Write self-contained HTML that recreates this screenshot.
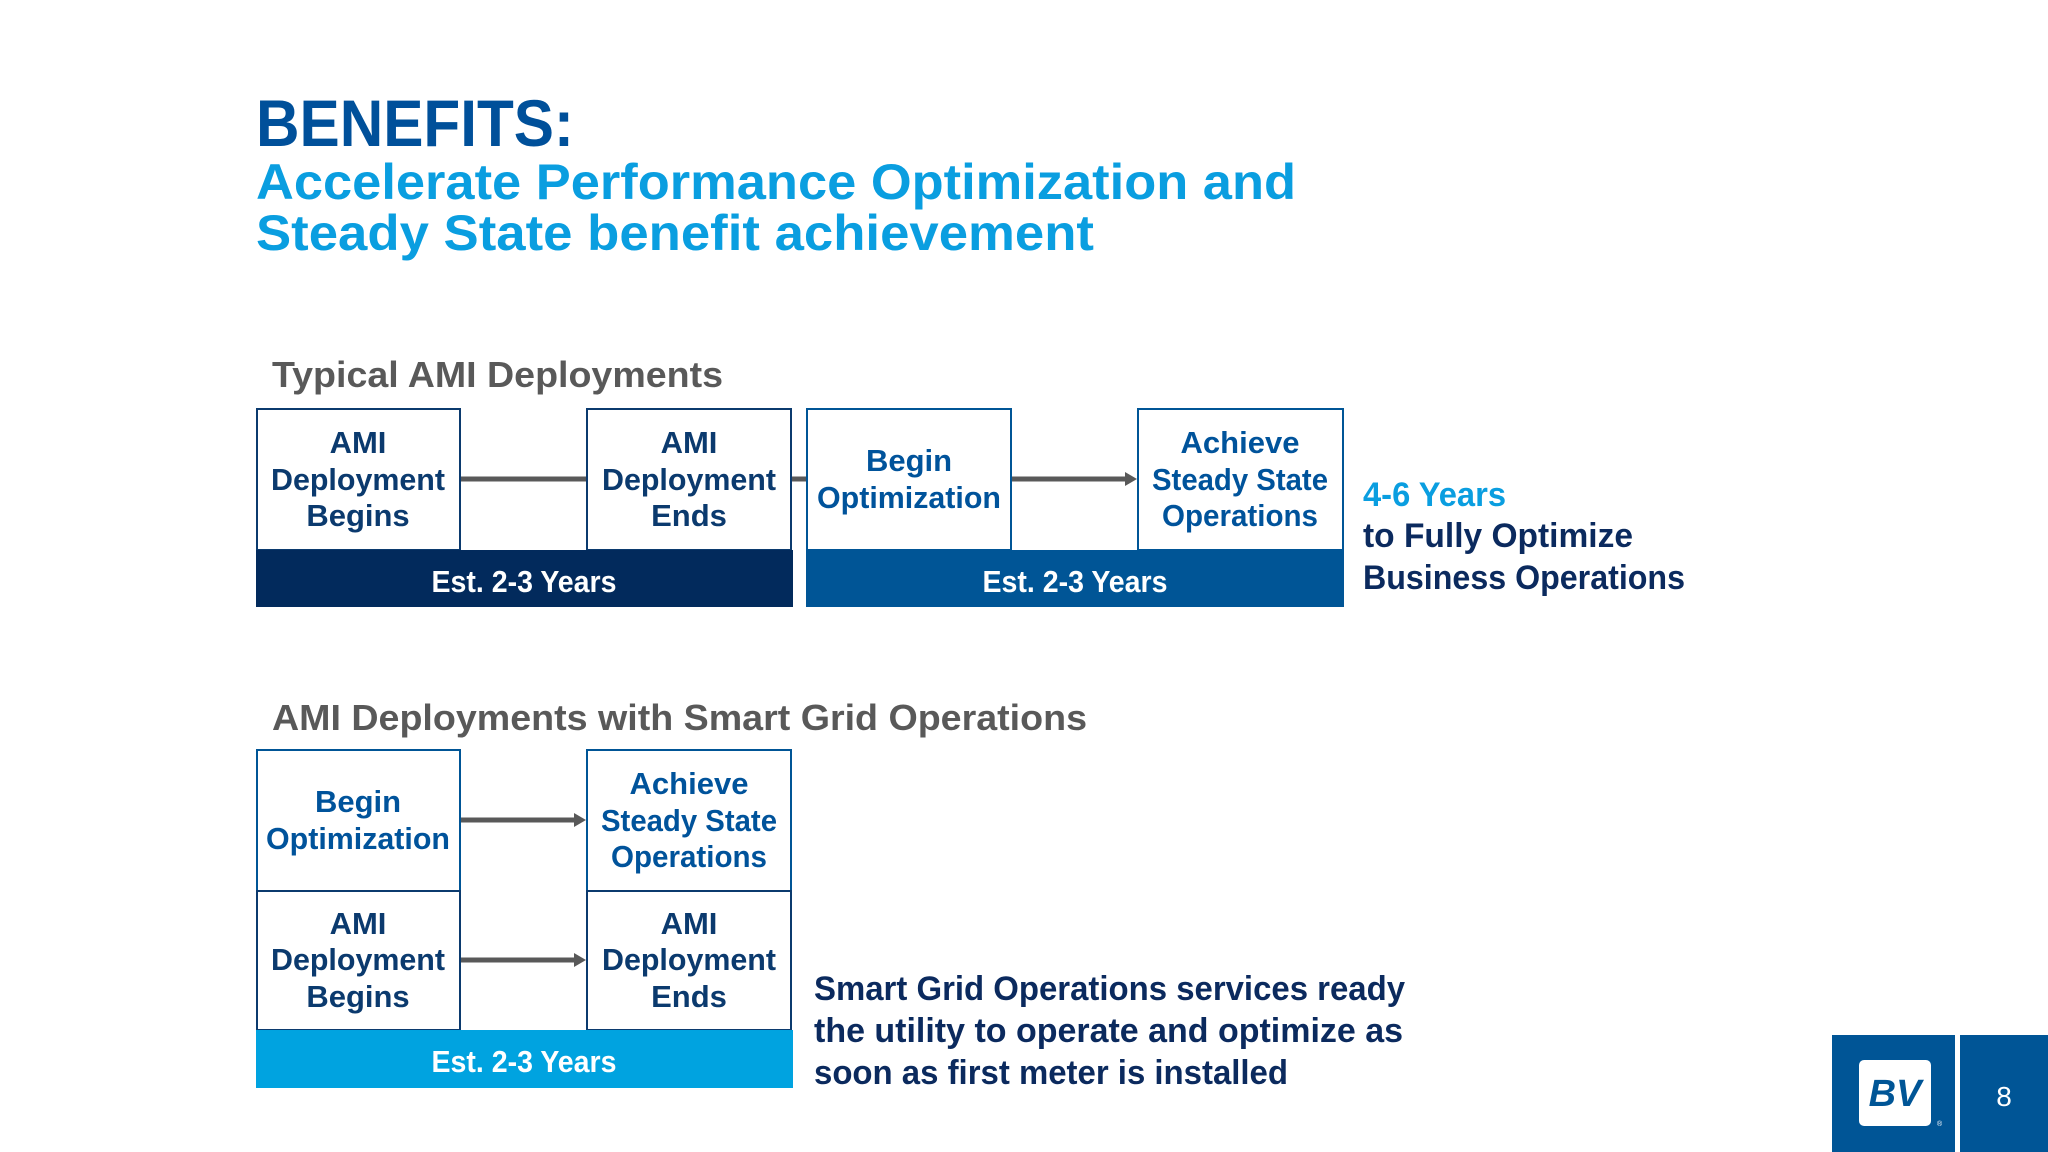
<!DOCTYPE html>
<html><head><meta charset="utf-8"><style>
html,body{margin:0;padding:0;background:#fff;}
svg{display:block;font-family:"Liberation Sans",sans-serif;font-weight:bold;}
</style></head><body>
<svg width="2048" height="1152" viewBox="0 0 2048 1152">
<rect width="2048" height="1152" fill="#fff"/>
<text x="256" y="146" font-size="66" fill="#00509a" textLength="318" lengthAdjust="spacingAndGlyphs">BENEFITS:</text>
<text x="256" y="199" font-size="50" fill="#0a9ee0" textLength="1040" lengthAdjust="spacingAndGlyphs">Accelerate Performance Optimization and</text>
<text x="256" y="250" font-size="50" fill="#0a9ee0" textLength="838" lengthAdjust="spacingAndGlyphs">Steady State benefit achievement</text>

<text x="272" y="387" font-size="36" fill="#595959" textLength="451" lengthAdjust="spacingAndGlyphs">Typical AMI Deployments</text>

<g stroke="#595959" stroke-width="5" fill="#595959">
<line x1="460" y1="479" x2="586" y2="479"/>
<line x1="791" y1="479" x2="806" y2="479"/>
<line x1="1011" y1="479" x2="1127" y2="479"/>
<polygon points="1125,472 1137,479 1125,486" stroke="none"/>
<line x1="460" y1="820" x2="576" y2="820"/>
<polygon points="574,813 586,820 574,827" stroke="none"/>
<line x1="460" y1="960" x2="576" y2="960"/>
<polygon points="574,953 586,960 574,967" stroke="none"/>
</g>

<g fill="#fff" stroke="#0b3a6e" stroke-width="2">
<rect x="257" y="409" width="203" height="141"/>
<rect x="587" y="409" width="204" height="141"/>
<rect x="807" y="409" width="204" height="141" stroke="#005596"/>
<rect x="1138" y="409" width="205" height="141" stroke="#005596"/>
<rect x="257" y="750" width="203" height="141" stroke="#005596"/>
<rect x="587" y="750" width="204" height="141" stroke="#005596"/>
<rect x="257" y="891" width="203" height="139"/>
<rect x="587" y="891" width="204" height="139"/>
</g>

<rect x="256" y="550" width="537" height="57" fill="#022a5c"/>
<rect x="806" y="550" width="538" height="57" fill="#005596"/>
<rect x="256" y="1030" width="537" height="58" fill="#00a3e0"/>

<g font-size="31" text-anchor="middle">
<g fill="#0b3a6e">
<text x="358" y="453">AMI</text><text x="358" y="490" textLength="174" lengthAdjust="spacingAndGlyphs">Deployment</text><text x="358" y="526">Begins</text>
<text x="689" y="453">AMI</text><text x="689" y="490" textLength="174" lengthAdjust="spacingAndGlyphs">Deployment</text><text x="689" y="526">Ends</text>
<text x="358" y="934">AMI</text><text x="358" y="970" textLength="174" lengthAdjust="spacingAndGlyphs">Deployment</text><text x="358" y="1007">Begins</text>
<text x="689" y="934">AMI</text><text x="689" y="970" textLength="174" lengthAdjust="spacingAndGlyphs">Deployment</text><text x="689" y="1007">Ends</text>
</g>
<g fill="#00539b">
<text x="909" y="471">Begin</text><text x="909" y="508" textLength="184" lengthAdjust="spacingAndGlyphs">Optimization</text>
<text x="1240" y="453">Achieve</text><text x="1240" y="490" textLength="176" lengthAdjust="spacingAndGlyphs">Steady State</text><text x="1240" y="526" textLength="156" lengthAdjust="spacingAndGlyphs">Operations</text>
<text x="358" y="812">Begin</text><text x="358" y="849" textLength="184" lengthAdjust="spacingAndGlyphs">Optimization</text>
<text x="689" y="794">Achieve</text><text x="689" y="831" textLength="176" lengthAdjust="spacingAndGlyphs">Steady State</text><text x="689" y="867" textLength="156" lengthAdjust="spacingAndGlyphs">Operations</text>
</g>
<g fill="#fff">
<text x="524" y="592" textLength="185" lengthAdjust="spacingAndGlyphs">Est. 2-3 Years</text>
<text x="1075" y="592" textLength="185" lengthAdjust="spacingAndGlyphs">Est. 2-3 Years</text>
<text x="524" y="1072" textLength="185" lengthAdjust="spacingAndGlyphs">Est. 2-3 Years</text>
</g>
</g>

<g font-size="34">
<text x="1363" y="506" fill="#0a9ee0" textLength="143" lengthAdjust="spacingAndGlyphs">4-6 Years</text>
<text x="1363" y="547" fill="#0b2a5e" textLength="270" lengthAdjust="spacingAndGlyphs">to Fully Optimize</text>
<text x="1363" y="589" fill="#0b2a5e" textLength="322" lengthAdjust="spacingAndGlyphs">Business Operations</text>
</g>

<text x="272" y="730" font-size="36" fill="#595959" textLength="815" lengthAdjust="spacingAndGlyphs">AMI Deployments with Smart Grid Operations</text>

<g font-size="34" fill="#0b2a5e">
<text x="814" y="1000" textLength="591" lengthAdjust="spacingAndGlyphs">Smart Grid Operations services ready</text>
<text x="814" y="1042" textLength="589" lengthAdjust="spacingAndGlyphs">the utility to operate and optimize as</text>
<text x="814" y="1084" textLength="474" lengthAdjust="spacingAndGlyphs">soon as first meter is installed</text>
</g>

<rect x="1832" y="1035" width="123" height="117" fill="#005596"/>
<rect x="1960" y="1035" width="88" height="117" fill="#005596"/>
<rect x="1859" y="1060" width="72" height="66" rx="5" fill="#fff"/>
<text x="1895" y="1106" font-size="38" fill="#005596" text-anchor="middle" font-style="italic">BV</text>
<text x="1937" y="1126" font-size="7" fill="#fff" font-weight="normal">®</text>
<text x="2004" y="1106" font-size="28" fill="#fff" font-weight="normal" text-anchor="middle">8</text>
</svg>
</body></html>
